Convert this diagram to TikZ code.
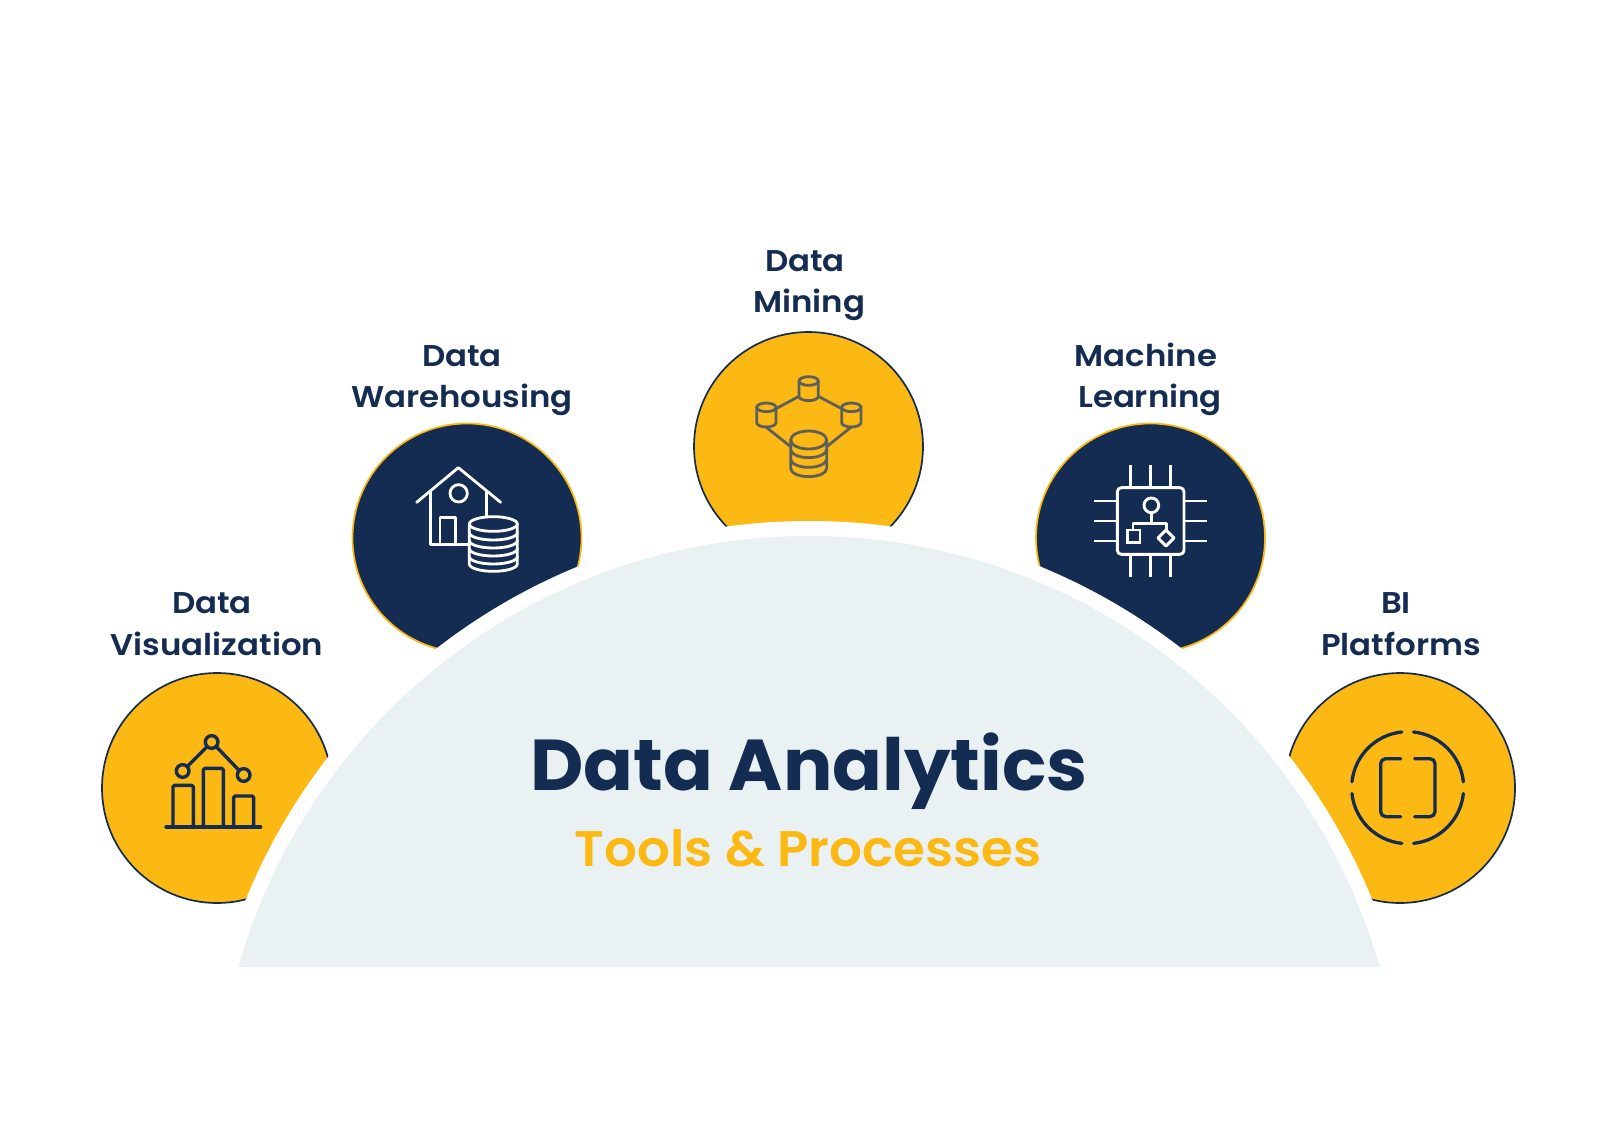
\documentclass[tikz,border=0pt]{standalone}
\usepackage{fontspec}
\newfontfamily\labelfont[FakeStretch=1.08]{Poppins SemiBold}
\newfontfamily\titlefont[FakeStretch=1.02]{Poppins Bold}
\newfontfamily\subfont[FakeStretch=1.03]{Poppins SemiBold}
\definecolor{gold}{HTML}{FDB913}
\definecolor{navy}{HTML}{152C52}
\definecolor{pale}{HTML}{EAF1F3}
\definecolor{stone}{HTML}{5E5F5C}
\tikzset{
  blobgold/.style={fill=gold,draw=navy,line width=1.7pt},
  blobnavy/.style={fill=navy,draw=gold,line width=1.7pt},
  lbl/.style={font=\labelfont\fontsize{30}{30}\selectfont,text=navy,anchor=base,inner sep=0pt},
  ico/.style={line width=#1,line cap=round,line join=round},
  zoomframe/.style={x=0.33333pt,y=-0.33333pt}
}
\begin{document}
\begin{tikzpicture}[x=1pt,y=-1pt]
\useasboundingbox (0,0) rectangle (1617,1134);
\fill[white] (0,0) rectangle (1617,1134);
% discs
\draw[blobgold] (217,788) circle [radius=115];
\draw[blobnavy] (467,538) circle [radius=114.5];
\draw[blobgold] (808.5,446.5) circle [radius=114.5];
\draw[blobnavy] (1150.5,538) circle [radius=114.5];
\draw[blobgold] (1400,788) circle [radius=115];
% white gap and dome
\fill[white] (809,1129) circle [radius=608];
\begin{scope}
\clip (0,0) rectangle (1617,966);
\fill[pale] (809,1129) circle [radius=593];
\end{scope}
% icon 1
\begin{scope}[shift={(90,660)},zoomframe,draw=navy,ico=3.4pt]
\draw (228,501) -- (512,501);
\draw[rounded corners=1.5pt] (249,501) -- (249,376) -- (310,376) -- (310,501);
\draw[rounded corners=1.5pt] (340,501) -- (340,325) -- (400,325) -- (400,501);
\draw[rounded corners=1.5pt] (431,501) -- (431,408) -- (491,408) -- (491,501);
\draw (278,333) circle [radius=19pt/3];
\draw (365,246) circle [radius=19pt/3];
\draw (461,345) circle [radius=19pt/3];
\draw (292,319) -- (351,260);
\draw (379,260) -- (447,331);
\end{scope}
% icon 2
\begin{scope}[shift={(340,410)},zoomframe,draw=white,ico=2.8pt]
\draw (230,277) -- (355,173) -- (482,277);
\draw (271,243) -- (271,404) -- (388,404);
\draw (440,243) -- (440,320);
\draw (356,250) circle [radius=26pt/3];
\draw (300,404) -- (300,322) -- (346,322) -- (346,404);
\draw (388,342) arc [start angle=180,end angle=-180,x radius=72pt/3,y radius=22pt/3];
\draw (388,342) -- (388,462) arc [start angle=180,end angle=360,x radius=72pt/3,y radius=22pt/3] -- (532,342);
\foreach \yy in {368,392,416,440}
  \draw (388,\yy) arc [start angle=180,end angle=360,x radius=72pt/3,y radius=22pt/3];
\end{scope}
% icon 3
\begin{scope}[shift={(680,320)},zoomframe,draw=stone,ico=2.8pt]
\draw (357,183) arc [start angle=180,end angle=-180,x radius=29pt/3,y radius=13pt/3];
\draw (357,183) -- (357,229) arc [start angle=180,end angle=360,x radius=29pt/3,y radius=13pt/3] -- (415,183);
\draw (230,262) arc [start angle=180,end angle=-180,x radius=29pt/3,y radius=13pt/3];
\draw (230,262) -- (230,308) arc [start angle=180,end angle=360,x radius=29pt/3,y radius=13pt/3] -- (288,262);
\draw (485,262) arc [start angle=180,end angle=-180,x radius=29pt/3,y radius=13pt/3];
\draw (485,262) -- (485,308) arc [start angle=180,end angle=360,x radius=29pt/3,y radius=13pt/3] -- (543,262);
\draw (332,360) arc [start angle=180,end angle=-180,x radius=54pt/3,y radius=27pt/3];
\draw (332,360) -- (332,445) arc [start angle=180,end angle=360,x radius=54pt/3,y radius=25pt/3] -- (440,360);
\draw (332,388) arc [start angle=180,end angle=360,x radius=54pt/3,y radius=25pt/3];
\draw (332,417) arc [start angle=180,end angle=360,x radius=54pt/3,y radius=25pt/3];
\draw (357,229) -- (288,266);
\draw (415,229) -- (485,266);
\draw (258,321) -- (332,380);
\draw (514,321) -- (440,380);
\end{scope}
% icon 4
\begin{scope}[shift={(1030,410)},zoomframe,draw=white,ico=2.9pt]
\draw[rounded corners=4pt] (262,233) rectangle (462,433);
\foreach \p in {301,361,421} {
  \draw[line cap=butt] (\p,165) -- (\p,233);
  \draw[line cap=butt] (\p,433) -- (\p,502);
}
\foreach \p in {273,333,393} {
  \draw[line cap=butt] (192,\p) -- (262,\p);
  \draw[line cap=butt] (462,\p) -- (530,\p);
}
\draw (364,286) circle [radius=22pt/3];
\draw (364,308) -- (364,340);
\draw (309,360) -- (309,340) -- (410,340) -- (410,360);
\draw[line join=miter] (293,360) rectangle (330,397);
\draw (408,360) -- (432,384) -- (408,408) -- (384,384) -- cycle;
\end{scope}
% icon 5
\begin{scope}[shift={(1280,660)},zoomframe,draw=navy,ico=3.3pt]
\foreach \a in {0,90,180,270}
  \draw (383,383) ++(\a+6:168pt/3) arc [start angle=\a+6,end angle=\a+84,radius=168pt/3];
\draw[rounded corners=5pt] (362,296) -- (302,296) -- (302,470) -- (362,470);
\draw[rounded corners=5pt] (404,296) -- (465,296) -- (465,470) -- (404,470);
\end{scope}
% text
\node[lbl] (l1a) at (212,613) {Data};
\node[lbl] (l1b) at (217,655) {Visualization};
\node[lbl] (l2a) at (462,366) {Data};
\node[lbl] (l2b) at (462,407) {Warehousing};
\node[lbl] (l3a) at (805,271) {Data};
\node[lbl] (l3b) at (809,312) {Mining};
\node[lbl] (l4a) at (1146,366) {Machine};
\node[lbl] (l4b) at (1150,407) {Learning};
\node[lbl] (l5a) at (1396,613) {BI};
\node[lbl] (l5b) at (1401,655) {Platforms};
\node[anchor=base,inner sep=0pt,text=navy,font=\titlefont\fontsize{72}{72}\selectfont] (title) at (809,790) {Data Analytics};
\node[anchor=base,inner sep=0pt,text=gold,font=\subfont\fontsize{50}{50}\selectfont] (sub) at (808,866) {Tools \& Processes};
\end{tikzpicture}
\end{document}
